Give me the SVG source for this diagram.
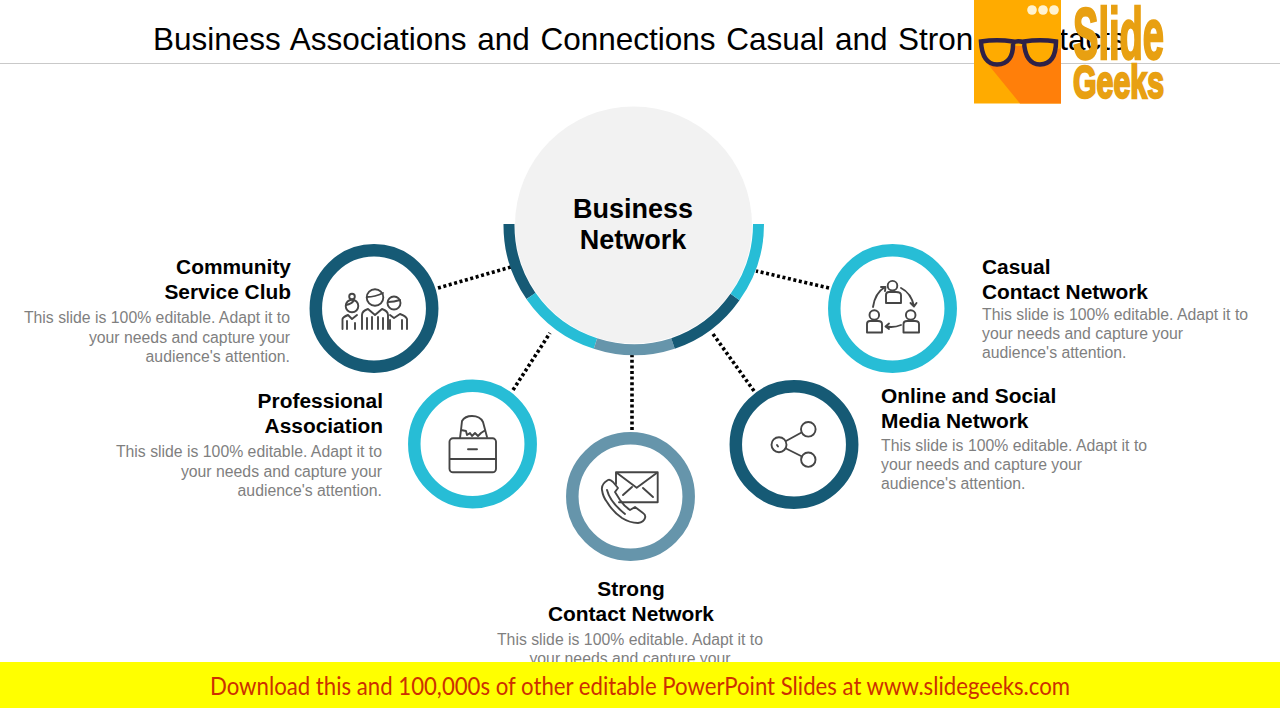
<svg xmlns="http://www.w3.org/2000/svg" width="1280" height="720" viewBox="0 0 1280 720">
<style>
text{font-family:"Liberation Sans",Arial,sans-serif}
.h{font-size:20.9px;font-weight:700;fill:#000}
.b{font-size:15.8px;fill:#7f7f7f}
.e{text-anchor:end}.m{text-anchor:middle}
.dark{stroke:#165a75}.cy{stroke:#27bdd6}.gb{stroke:#6695ab}
.ring{fill:#fff;stroke-width:12.5}
.arc{fill:none;stroke-width:11}
.dot{fill:none;stroke:#000;stroke-width:3.6;stroke-dasharray:3 2.6}
.ic{fill:none;stroke:#454545;stroke-width:1.9;stroke-linecap:round;stroke-linejoin:round}
.lg{font-weight:700;fill:#e8a012;stroke:#e8a012;stroke-width:2.4}
</style>
<rect width="1280" height="720" fill="#fff"/>
<g id="title">
<text x="153" y="50" font-size="31.5" word-spacing="1.9" fill="#000">Business Associations and Connections Casual and Strong Contacts</text>
<path d="M0 63.5H1280" stroke="#c9c9c9" stroke-width="1"/>
</g>
<g id="connectors">
<path class="dot" d="M438 288L511 267"/>
<path class="dot" d="M513 390L550 333"/>
<path class="dot" d="M632 430V355"/>
<path class="dot" d="M754 391L713 334"/>
<path class="dot" d="M829 288L756 271"/>
</g>
<g id="hub">
<circle cx="633.500" cy="225" r="118.500" fill="#f2f2f2"/>
<path class="arc dark" d="M509 224A124.500 124.500 0 0 0 531 296"/>
<path class="arc cy" d="M531 296A124.500 124.500 0 0 0 595.500 343.500"/>
<path class="arc gb" d="M595.500 343.500A124.500 124.500 0 0 0 673 343.500"/>
<path class="arc dark" d="M673 343.500A124.500 124.500 0 0 0 735 297"/>
<path class="arc cy" d="M735 297A124.500 124.500 0 0 0 758.500 224"/>
<text class="m" x="633" y="218" font-size="27" font-weight="700">Business</text>
<text class="m" x="633" y="249" font-size="27" font-weight="700">Network</text>
</g>
<g id="community">
<circle class="ring dark" cx="374" cy="308.500" r="58.200"/>
<g class="ic">
<circle cx="375" cy="297.500" r="8.300"/><path d="M367 297Q375 297 383 293"/>
<path d="M362 329V315Q362 311 368 309L375 315L382 309Q388 311 388 315V329M367 329V318M372 329V317M378 329V317M383 329V318"/>
<circle cx="352" cy="306" r="6.300"/><circle cx="352" cy="296.500" r="2.800"/><path d="M346 305Q352 304 354 300"/>
<path d="M342.500 329V319Q343 317 348 315L352 319L357 315M347 329V321M355 329V323"/>
<circle cx="394" cy="303" r="6.500"/><path d="M388 302Q394 302 400 300"/>
<path d="M407 329V319Q406 316 400 314L394 318L390 315M402 329V320M390 329V320"/>
</g>
<text class="h e" x="291" y="274">Community</text>
<text class="h e" x="291" y="299">Service Club</text>
<text class="b e" x="290" y="323">This slide is 100% editable. Adapt it to</text>
<text class="b e" x="290" y="343">your needs and capture your</text>
<text class="b e" x="290" y="362">audience's attention.</text>
</g>
<g id="professional">
<circle class="ring cy" cx="472.500" cy="444" r="58.200"/>
<g class="ic">
<rect x="449.500" y="438.300" width="46.500" height="34" rx="3.500"/>
<path d="M450 459H496M468 449.300H477"/>
<path d="M460 438L461 430L462 421Q465 416 472 416Q480 416 483 422L487 437M461 430L466 431L467 435L470 433L472 436L475 433L478 436L481 433L484 431"/>
</g>
<text class="h e" x="383" y="408">Professional</text>
<text class="h e" x="383" y="433">Association</text>
<text class="b e" x="382" y="457">This slide is 100% editable. Adapt it to</text>
<text class="b e" x="382" y="477">your needs and capture your</text>
<text class="b e" x="382" y="496">audience's attention.</text>
</g>
<g id="strong">
<circle class="ring gb" cx="630.500" cy="496.500" r="58.200"/>
<g class="ic">
<path d="M616 484V472.300H657.700V502.300H619"/>
<path d="M617 473L636.700 487.700L656.700 473M623 495L632 487M653 497L643 488"/>
<path d="M608 480Q601 484 602 490Q603 497 607 502Q613 512 622 518Q630 523 638 523Q644 522 645 518Q646 515 643 513L635 507L630 510Q624 506 620 500L615 492L618 488L613 482Q610 479 608 480Z"/>
<path d="M607 490Q610 502 625 514"/>
</g>
<text class="h m" x="631" y="596">Strong</text>
<text class="h m" x="631" y="621">Contact Network</text>
<text class="b m" x="630" y="645">This slide is 100% editable. Adapt it to</text>
<text class="b m" x="630" y="664">your needs and capture your</text>
</g>
<g id="online">
<circle class="ring dark" cx="794" cy="444.500" r="58.200"/>
<g class="ic">
<circle cx="779" cy="444.700" r="7.500"/><circle cx="808.300" cy="429.300" r="7.300"/><circle cx="808.300" cy="459.700" r="7.200"/>
<path d="M786 441L801.500 432.500M786 448.500L802 456.500M777 445L778 446.500"/>
</g>
<text class="h" x="881" y="403">Online and Social</text>
<text class="h" x="881" y="428">Media Network</text>
<text class="b" x="881" y="451">This slide is 100% editable. Adapt it to</text>
<text class="b" x="881" y="470">your needs and capture your</text>
<text class="b" x="881" y="489">audience's attention.</text>
</g>
<g id="casual">
<circle class="ring cy" cx="892.500" cy="308.500" r="58.200"/>
<g class="ic">
<circle cx="892.500" cy="285.700" r="4.800"/><path d="M886 303V295Q886 292 889 292H896Q901 292 901 295V303Z"/>
<circle cx="874.300" cy="315" r="4.800"/><path d="M867 332.500V324Q867 321 870 321H878Q882 321 882 324V332.500Z"/>
<circle cx="910.700" cy="315" r="4.800"/><path d="M903.500 332.500V324Q903.500 321 907 321H915Q919 321 919 324V332.500Z"/>
<path d="M873 307Q875 293 885 287M881 287L885.500 287L885 291"/>
<path d="M901 288Q911 293 914 306M910.500 303L914 306.500L916.500 303"/>
<path d="M901 325Q894 328 886 326.500M889 323.500L885.500 326.500L889 329"/>
</g>
<text class="h" x="982" y="274">Casual</text>
<text class="h" x="982" y="299">Contact Network</text>
<text class="b" x="982" y="320">This slide is 100% editable. Adapt it to</text>
<text class="b" x="982" y="339">your needs and capture your</text>
<text class="b" x="982" y="358">audience's attention.</text>
</g>
<g id="logo">
<rect x="974" y="0" width="87" height="103.500" fill="#ffab00"/>
<polygon points="987,63 1020,103.500 1061,103.500 1061,48 1056,50 1054,58 1047,65 1036,65 1028,58 1023,46 1013,46 1011,58 1003,65 992,65" fill="#ff7f0a"/>
<circle cx="1032" cy="10" r="4.800" fill="#fff3d0"/><circle cx="1043" cy="10" r="4.800" fill="#fff3d0"/><circle cx="1054" cy="10" r="4.800" fill="#fff3d0"/>
<path d="M981 41.500Q997 39 1013 41.500Q1014 64 997 64.500Q982 64 981 41.500ZM1024 41.500Q1040 39 1056 41.500Q1056 64 1040 64.500Q1025 64 1024 41.500ZM1013 42.500Q1018 40 1024 42.500" fill="none" stroke="#2e2148" stroke-width="4.500"/>
<text class="lg" x="1073" y="59" font-size="72" textLength="91" lengthAdjust="spacingAndGlyphs">Slide</text>
<text class="lg" x="1073" y="98" font-size="47" textLength="91" lengthAdjust="spacingAndGlyphs">Geeks</text>
</g>
<g id="banner">
<rect x="0" y="662" width="1280" height="46" fill="#ffff00"/>
<text x="210" y="695" font-size="25.5" textLength="860" lengthAdjust="spacingAndGlyphs" fill="#cc3000" style="font-family:Lato,'Liberation Sans',sans-serif">Download this and 100,000s of other editable PowerPoint Slides at www.slidegeeks.com</text>
</g>
</svg>
